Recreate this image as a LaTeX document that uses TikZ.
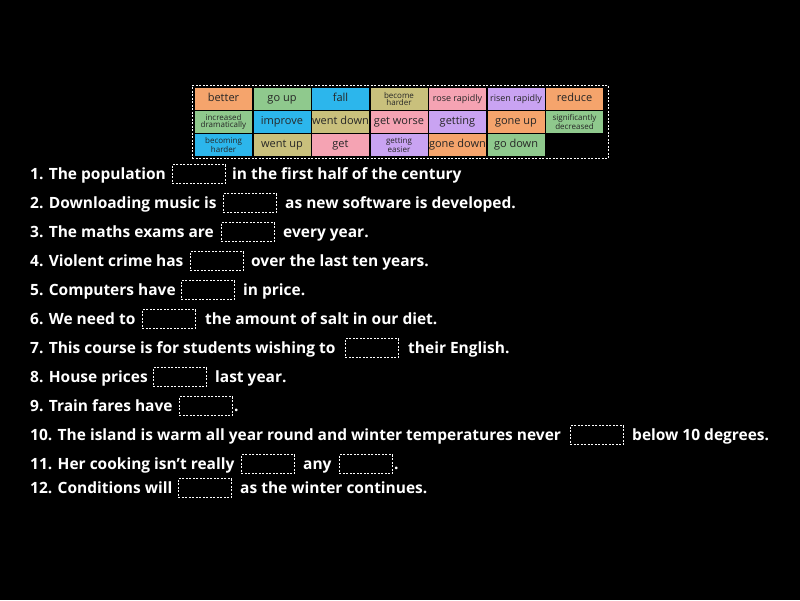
\documentclass[tikz,border=0pt]{standalone}
\usepackage{fontspec}
\setmainfont{Open Sans}
\begin{document}
\begin{tikzpicture}[x=1pt,y=-1pt,
  txt/.style={anchor=base west,inner sep=0pt,text=white,font=\bfseries\fontsize{15.5}{16}\selectfont},
  blank/.style={draw=white,dashed,dash pattern=on 2pt off 1.5pt,line width=0.8pt,minimum width=53pt,minimum height=19pt,inner sep=0pt,anchor=west},
  cell/.style={minimum width=57pt,minimum height=22pt,inner sep=0pt,align=center,text=black!85,font=\fontsize{11}{11}\selectfont,text height=7.5pt,text depth=2pt},
  sm/.style={font=\fontsize{8}{7.5}\selectfont,text height=,text depth=},
  md/.style={font=\fontsize{9}{9}\selectfont}]
\definecolor{co}{HTML}{F5A46C}\definecolor{cg}{HTML}{8FC98D}\definecolor{cb}{HTML}{2CB6EC}
\definecolor{ck}{HTML}{C9C07C}\definecolor{cp}{HTML}{F5A3B3}\definecolor{cv}{HTML}{C9A3F2}
\fill[black] (0,0) rectangle (800,600);
\node[draw=white,dashed,dash pattern=on 2pt off 1.5pt,minimum width=416pt,minimum height=73pt,inner sep=0pt] (bank) at (400,122) {};
\foreach \t/\c/\s [count=\i from 0] in {better/co/,go up/cg/,fall/cb/,become\\harder/ck/sm,rose rapidly/cp/md,risen rapidly/cv/md,reduce/co/}
  \node[cell,fill=\c,\s] (r1c\i) at (223.5+\i*58.5,99) {\t};
\foreach \t/\c/\s [count=\i from 0] in {increased\\dramatically/cg/sm,improve/cb/,went down/ck/,get worse/cp/,getting/cv/,gone up/co/,significantly\\decreased/cg/sm}
  \node[cell,fill=\c,\s] (r2c\i) at (223.5+\i*58.5,122) {\t};
\foreach \t/\c/\s [count=\i from 0] in {becoming\\harder/cb/sm,went up/ck/,get/cp/,getting\\easier/cv/sm,gone down/co/,go down/cg/}
  \node[cell,fill=\c,\s] (r3c\i) at (223.5+\i*58.5,145) {\t};
% sentences
\node[txt] (s1) at (30,179) {1. The population}; \node[blank] (b1) at (172,174) {}; \node[txt] (e1) at (232,179) {in the first half of the century};
\node[txt] (s2) at (30,208) {2. Downloading music is}; \node[blank] (b2) at (223,203) {}; \node[txt] (e2) at (285,208) {as new software is developed.};
\node[txt] (s3) at (30,237) {3. The maths exams are}; \node[blank] (b3) at (221,232) {}; \node[txt] (e3) at (283,237) {every year.};
\node[txt] (s4) at (30,266) {4. Violent crime has}; \node[blank] (b4) at (190,261) {}; \node[txt] (e4) at (251,266) {over the last ten years.};
\node[txt] (s5) at (30,295) {5. Computers have}; \node[blank] (b5) at (181,290) {}; \node[txt] (e5) at (243,295) {in price.};
\node[txt] (s6) at (30,324) {6. We need to}; \node[blank] (b6) at (142,319) {}; \node[txt] (e6) at (205,324) {the amount of salt in our diet.};
\node[txt] (s7) at (30,353) {7. This course is for students wishing to}; \node[blank] (b7) at (345,348) {}; \node[txt] (e7) at (408,353) {their English.};
\node[txt] (s8) at (30,382) {8. House prices}; \node[blank] (b8) at (153,377) {}; \node[txt] (e8) at (215,382) {last year.};
\node[txt] (s9) at (30,411) {9. Train fares have}; \node[blank] (b9) at (179,406) {}; \node[txt] (e9) at (234,411) {.};
\node[txt] (s10) at (30,440) {10. The island is warm all year round and winter temperatures never}; \node[blank] (b10) at (570,435) {}; \node[txt] (e10) at (632,440) {below 10 degrees.};
\node[txt] (s11) at (30,469) {11. Her cooking isn{\char39}t really}; \node[blank] (b11) at (241,464) {}; \node[txt] (m11) at (303,469) {any}; \node[blank] (c11) at (339,464) {}; \node[txt] (e11) at (394,469) {.};
\node[txt] (s12) at (30,493) {12. Conditions will}; \node[blank] (b12) at (178,488) {}; \node[txt] (e12) at (240,493) {as the winter continues.};
\end{tikzpicture}
\end{document}
